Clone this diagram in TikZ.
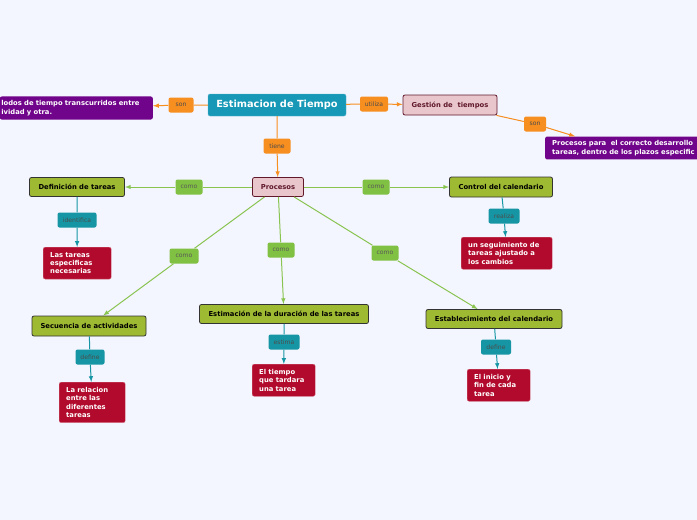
\documentclass[tikz,border=0pt]{standalone}
\usepackage{fontspec}
\setmainfont{DejaVu Sans}
\definecolor{fondo}{RGB}{244,246,255}
\definecolor{azul}{RGB}{22,152,182}
\definecolor{naranja}{RGB}{246,142,32}
\definecolor{morado}{RGB}{112,4,138}
\definecolor{rosa}{RGB}{232,198,204}
\definecolor{granate}{RGB}{96,24,42}
\definecolor{oliva}{RGB}{158,185,50}
\definecolor{verde}{RGB}{128,192,66}
\definecolor{lineaverde}{RGB}{138,196,80}
\definecolor{turquesa}{RGB}{22,150,164}
\definecolor{rojo}{RGB}{178,10,44}
\tikzset{
  caja/.style={rounded corners=2pt, inner sep=0pt, font=\fontsize{6.8}{8.4}\selectfont\bfseries},
  central/.style={caja, fill=azul, draw=azul!70!white, text=white, font=\fontsize{9.8}{11}\selectfont\bfseries},
  proceso/.style={caja, fill=rosa, draw=granate, line width=0.8pt, text=granate},
  tema/.style={caja, fill=oliva, draw=black!80, line width=0.8pt, text=black},
  nota/.style={caja, fill=morado, text=white, align=left, inner xsep=1.5pt, inner ysep=4pt},
  hoja/.style={caja, fill=rojo, draw=rojo!60!white, line width=0.4pt, text=white, align=left, inner xsep=7pt, inner ysep=5pt},
  enlace/.style={rounded corners=2pt, inner sep=0pt, minimum height=15pt, font=\fontsize{6.1}{7}\selectfont},
  son/.style={enlace, fill=naranja, text=black!70},
  como/.style={enlace, fill=verde, text=black!65},
  verbo/.style={enlace, fill=turquesa, text=black!70},
}
\begin{document}
\begin{tikzpicture}[x=1pt, y=-1pt, >=latex]
  \useasboundingbox (0,0) rectangle (697,520);
  \clip (0,0) rectangle (697,520);
  \fill[fondo] (0,0) rectangle (697,520);
  % nodos principales
  \node[central, minimum width=138pt, minimum height=22pt] (est) at (277,105) {Estimacion de Tiempo};
  \node[nota, text width=150pt, anchor=east] (per) at (153,108) {lodos de tiempo transcurridos entre\\ividad y otra.};
  \node[proceso, minimum width=94pt, minimum height=20pt] (ges) at (450,105) {Gestión de~ tiempos};
  \node[nota, text width=200pt, inner xsep=7pt, anchor=west] (pro) at (545,148) {Procesos para~ el correcto desarrollo\\tareas, dentro de los plazos especific};
  \node[proceso, minimum width=51pt, minimum height=19pt] (proc) at (278,187) {Procesos};
  \node[tema, minimum width=95pt, minimum height=19pt] (def) at (77,187) {Definición de tareas};
  \node[tema, minimum width=103pt, minimum height=20pt] (con) at (501,187) {Control del calendario};
  \node[tema, minimum width=114pt, minimum height=20pt] (sec) at (89,326) {Secuencia de actividades};
  \node[tema, minimum width=169pt, minimum height=19pt] (dur) at (284,314) {Estimación de la duración de las tareas};
  \node[tema, minimum width=136pt, minimum height=19pt] (cal) at (494,319) {Establecimiento del calendario};
  % hojas
  \node[hoja, text width=54pt, anchor=north west] (h1) at (43,247) {Las tareas\\especificas\\necesarias};
  \node[hoja, text width=77pt, anchor=north west] (h2) at (461,237) {un seguimiento de\\tareas ajustado a\\los cambios};
  \node[hoja, text width=52pt, anchor=north west] (h3) at (59,382) {La relacion\\entre las\\diferentes\\tareas};
  \node[hoja, text width=49pt, anchor=north west] (h4) at (252,364) {El tiempo\\que tardara\\una tarea};
  \node[hoja, text width=49pt, anchor=north west] (h5) at (467,369) {El inicio y\\fin de cada\\tarea};
  % etiquetas
  \node[son, minimum width=25pt] (s1) at (181,105) {son};
  \node[son, minimum width=28pt] (s2) at (374,104) {utiliza};
  \node[son, minimum width=22pt] (s3) at (535,124) {son};
  \node[son, minimum width=27pt] (s4) at (277,146) {tiene};
  \node[como, minimum width=27pt] (c1) at (189,187) {como};
  \node[como, minimum width=27pt] (c2) at (376,187) {como};
  \node[como, minimum width=29pt] (c3) at (184,256) {como};
  \node[como, minimum width=27pt] (c4) at (281,250) {como};
  \node[como, minimum width=27pt] (c5) at (385,253) {como};
  \node[verbo, minimum width=39pt] (v1) at (77,220) {identifica};
  \node[verbo, minimum width=31pt] (v2) at (504,216) {realiza};
  \node[verbo, minimum width=29pt] (v3) at (90,357) {define};
  \node[verbo, minimum width=31pt] (v4) at (284,342) {estima};
  \node[verbo, minimum width=30pt] (v5) at (496,347) {define};
  % conectores
  \begin{scope}[naranja, line width=1pt]
    \draw[->] (est) -- (s1) -- (per);
    \draw[->] (est) -- (s2) -- (ges);
    \draw[->] (ges) -- (s3) -- (pro.north west -| 575,0);
    \draw[->] (est) -- (s4) -- (proc);
  \end{scope}
  \begin{scope}[lineaverde, line width=1pt]
    \draw[->] (proc) -- (c1) -- (def);
    \draw[->] (proc) -- (c2) -- (con);
    \draw[->] (proc) -- (c3) -- (sec);
    \draw[->] (proc) -- (c4) -- (dur);
    \draw[->] (proc) -- (c5) -- (cal);
  \end{scope}
  \begin{scope}[turquesa, line width=1pt]
    \draw[->] (def) -- (v1) -- (h1);
    \draw[->] (con) -- (v2) -- (h2);
    \draw[->] (sec) -- (v3) -- (h3);
    \draw[->] (dur) -- (v4) -- (h4);
    \draw[->] (cal) -- (v5) -- (h5);
  \end{scope}
\end{tikzpicture}
\end{document}
